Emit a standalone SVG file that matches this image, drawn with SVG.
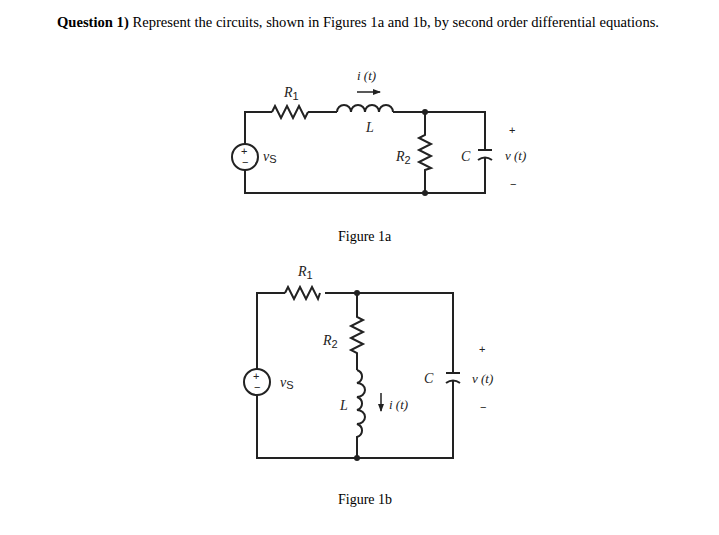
<svg xmlns="http://www.w3.org/2000/svg" width="719" height="535" viewBox="0 0 719 535">
<style>
.w{fill:none;stroke:#222;stroke-width:2}
.t{font-family:"Liberation Serif",serif;font-size:14px;fill:#000}
.i{font-family:"Liberation Serif",serif;font-style:italic;font-size:14px;fill:#222}
.s{font-family:"Liberation Sans",sans-serif;font-style:normal;font-size:11px;fill:#222}
.d{fill:#222}
</style>
<defs><marker id="a" markerUnits="userSpaceOnUse" markerWidth="8" markerHeight="6" refX="7" refY="3" orient="auto"><path d="M0,0L8,3L0,6z" fill="#222"/></marker></defs>
<rect width="719" height="535" fill="#fff"/>
<text x="57" y="27" class="t" style="font-size:14.6px"><tspan font-weight="bold">Question 1)</tspan> Represent the circuits, shown in Figures 1a and 1b, by second order differential equations.</text>
<g id="fig1a">
<g id="wires1a" class="w">
<path d="M245,144V112H272M308,112H337M393,112H485V150M485,157V193H245V170"/>
<path d="M272,112l3,-6l6,12l6,-12l6,12l6,-12l6,12l3,-6"/>
<path d="M337,112a7,7 0 0 1 14,0a7,7 0 0 1 14,0a7,7 0 0 1 14,0a7,7 0 0 1 14,0"/>
<path d="M425,112V135l-6,3l12,6l-12,6l12,6l-12,6l12,6l-6,2V193"/>
<path d="M478,150H492M478,160q7,-5 14,0"/>
<circle cx="245" cy="157" r="13"/>
<path d="M357,92H380" stroke-width="1.5" marker-end="url(#a)"/>
</g>
<circle cx="425" cy="112" r="3" class="d"/><circle cx="425" cy="193" r="3" class="d"/>
<text x="241" y="155" class="s">+</text><text x="242" y="166" class="s">−</text>
<text x="284" y="97" class="i">R<tspan class="s" dy="3">1</tspan></text>
<text x="357" y="80" class="i" style="font-size:13px">i (t)</text>
<text x="366" y="132" class="i">L</text>
<text x="263" y="161" class="i">v<tspan class="s" dy="2">S</tspan></text>
<text x="396" y="161" class="i">R<tspan class="s" dy="3">2</tspan></text>
<text x="461" y="161" class="i">C</text>
<text x="505" y="160" class="i" style="font-size:13px">v (t)</text>
<text x="509" y="134" class="s">+</text><text x="510" y="188" class="s">−</text>
<text x="338" y="241" class="t">Figure 1a</text>
</g>
<g id="fig1b">
<g id="wires1b" class="w">
<path d="M257,369V293H285M325,293H453V373M453,380V458H257V395"/>
<path d="M285,293l3,-6l6,12l6,-12l6,12l6,-12l6,12l2,-6"/>
<path d="M357,293V317l6,3l-12,6l12,6l-12,6l12,6l-12,6l6,3V370"/>
<path d="M357,370a8,7 0 0 1 0,13a8,7 0 0 1 0,14a8,7 0 0 1 0,13a8,7 0 0 1 0,14a8,7 0 0 1 0,13V458"/>
<path d="M446,373H460M446,383q7,-5 14,0"/>
<circle cx="257" cy="382" r="13"/>
<path d="M381,393V411" stroke-width="1.5" marker-end="url(#a)"/>
</g>
<circle cx="357" cy="293" r="3" class="d"/><circle cx="357" cy="458" r="3" class="d"/>
<text x="253" y="380" class="s">+</text><text x="254" y="391" class="s">−</text>
<text x="298" y="276" class="i">R<tspan class="s" dy="3">1</tspan></text>
<text x="323" y="345" class="i">R<tspan class="s" dy="3">2</tspan></text>
<text x="340" y="410" class="i">L</text>
<text x="389" y="409" class="i" style="font-size:13px">i (t)</text>
<text x="280" y="387" class="i">v<tspan class="s" dy="2">S</tspan></text>
<text x="424" y="383" class="i">C</text>
<text x="472" y="383" class="i" style="font-size:13px">v (t)</text>
<text x="479" y="353" class="s">+</text><text x="480" y="411" class="s">−</text>
<text x="338" y="504" class="t">Figure 1b</text>
</g>
</svg>
